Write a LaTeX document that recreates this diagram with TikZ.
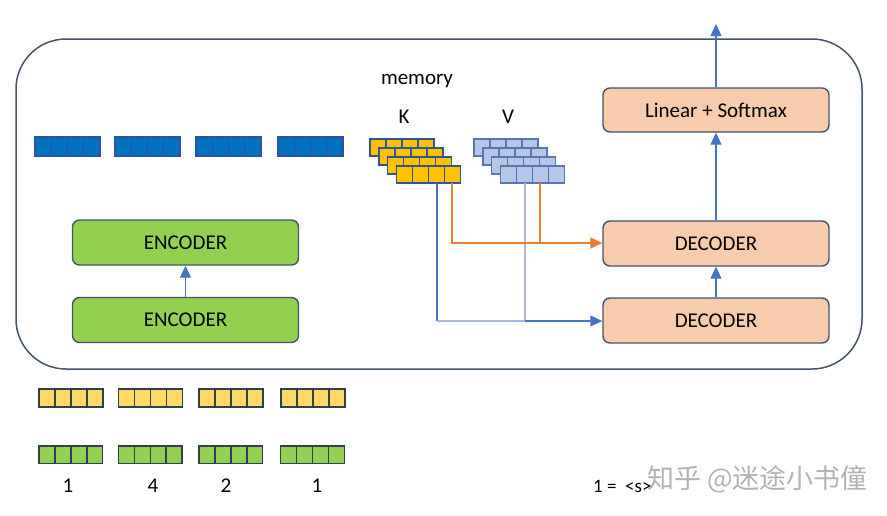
\documentclass[tikz,border=0pt]{standalone}
\usepackage{fontspec}
\setmainfont{Carlito}
\newfontfamily\cjk{Noto Sans CJK SC}
\usetikzlibrary{arrows.meta}
\definecolor{frame}{HTML}{44546A}
\definecolor{encfill}{HTML}{92D050}
\definecolor{decfill}{HTML}{F8CBAD}
\definecolor{arrblue}{HTML}{4472C4}
\definecolor{arrorange}{HTML}{ED7D31}
\definecolor{vlight}{HTML}{A9B8D6}
\definecolor{memblue}{HTML}{0070C0}
\definecolor{memedge}{HTML}{2F5597}
\definecolor{kfill}{HTML}{FFC000}
\definecolor{vfill}{HTML}{B4C7E7}
\definecolor{yfill}{HTML}{FFD966}
\definecolor{celledge}{HTML}{333F50}
\tikzset{
  blockbox/.style={draw=frame, line width=1.4pt, rounded corners=7pt, minimum width=226pt, minimum height=45pt, inner sep=0pt, font=\fontsize{21}{24}\selectfont},
  encbox/.style={blockbox, fill=encfill},
  decbox/.style={blockbox, fill=decfill},
  bluearrow/.style={draw=arrblue, line width=1.1pt, -{Triangle[length=12pt,width=11pt]}},
  orangearrow/.style={draw=arrorange, line width=1.1pt, -{Triangle[length=12pt,width=11pt]}},
  kline/.style={draw=arrblue, line width=1.1pt},
  vline/.style={draw=vlight, line width=1.3pt},
  oline/.style={draw=arrorange, line width=1.1pt},
  bluecell/.style={fill=memblue, draw=memedge, line width=1.4pt},
  kcell/.style={fill=kfill, draw=memedge, line width=1.6pt},
  vcell/.style={fill=vfill, draw=memedge!80, line width=1.6pt},
  ycell/.style={fill=yfill, draw=celledge, line width=1.6pt},
  gcell/.style={fill=encfill, draw=celledge, line width=1.6pt},
  lbl/.style={font=\fontsize{21}{24}\selectfont, inner sep=0pt},
}
% #1 x, #2 y, #3 cell width, #4 height, #5 style
\newcommand\cellbar[5]{%
  \foreach \ci in {0,...,3} {\draw[#5] ({#1+\ci*#3},{#2}) rectangle ({#1+(\ci+1)*#3},{#2+#4});}}
\begin{document}
\begin{tikzpicture}[x=1pt,y=-1pt]
\useasboundingbox (0,0) rectangle (887,515);
% big frame
\draw[frame, line width=1.5pt, rounded corners=50pt] (16,39) rectangle (862,369);

% encoder outputs
\foreach \bx in {35,115,196,278} {\cellbar{\bx}{137}{16.25}{19}{bluecell}}

% memory
\node[lbl] (mem) at (417,81) {memory};
\node[lbl] (klab) at (404,117) {K};
\node[lbl] (vlab) at (508,117) {V};
\foreach \s in {0,1,2,3} {\cellbar{370+8.8*\s}{139+9*\s}{16}{17}{kcell}}
\foreach \s in {0,1,2,3} {\cellbar{474+8.8*\s}{139+9*\s}{16}{17}{vcell}}

% blocks
\node[encbox] (enc1) at (185.5,320) {ENCODER};
\node[encbox] (enc2) at (185.5,242.5) {ENCODER};
\node[decbox] (dec1) at (716,320.5) {DECODER};
\node[decbox] (dec2) at (716,243.5) {DECODER};
\node[decbox, minimum height=44pt] (lin) at (716,110) {Linear + Softmax};

\coordinate (ktop) at (437,183);
\coordinate (kcorner) at (437,321);
\coordinate (vtop) at (525,183);
\coordinate (vcorner) at (525,321);
\coordinate (kotop) at (452,183);
\coordinate (kocorner) at (452,243);
\coordinate (votop) at (540,183);
\coordinate (vocorner) at (540,243);
\coordinate (out) at (716,24);

% K/V connectors
\draw[kline] (ktop) -- (kcorner);
\draw[vline] (kcorner) -- (vcorner);
\draw[vline] (vtop) -- (vcorner);
\draw[bluearrow] (vcorner) -- (dec1.west |- vcorner);
\draw[oline] (kotop) -- (kocorner) -- (vocorner);
\draw[oline] (votop) -- (vocorner);
\draw[orangearrow] (vocorner) -- (dec2.west |- vocorner);

% stack arrows
\draw[bluearrow] (enc1.north) -- (enc2.south);
\draw[bluearrow] (dec1.north) -- (dec2.south);
\draw[bluearrow] (dec2.north) -- (lin.south);
\draw[bluearrow] (lin.north) -- (out);

% inputs
\cellbar{39}{389}{16}{18}{ycell}
\cellbar{118.5}{389}{16}{18}{ycell}
\cellbar{199}{389}{16}{18}{ycell}
\cellbar{281}{389}{16}{18}{ycell}
\cellbar{39}{446}{15.9}{17.5}{gcell}
\cellbar{118.5}{446}{15.9}{17.5}{gcell}
\cellbar{199}{446}{15.9}{17.5}{gcell}
\cellbar{280.5}{446}{16}{17.5}{gcell}

\node[lbl] (n1) at (68,486) {1};
\node[lbl] (n2) at (153,486) {4};
\node[lbl] (n3) at (226,486) {2};
\node[lbl] (n4) at (317,486) {1};
\node[font=\fontsize{19}{21}\selectfont, inner sep=0pt, anchor=west] (legend) at (593,486) {1 =\ \ <s>};
\node[font=\cjk\fontsize{27}{29}\selectfont, text=black!30, inner sep=0pt, anchor=west] (wm) at (647,479) {知乎 @迷途小书僮};
\end{tikzpicture}
\end{document}
